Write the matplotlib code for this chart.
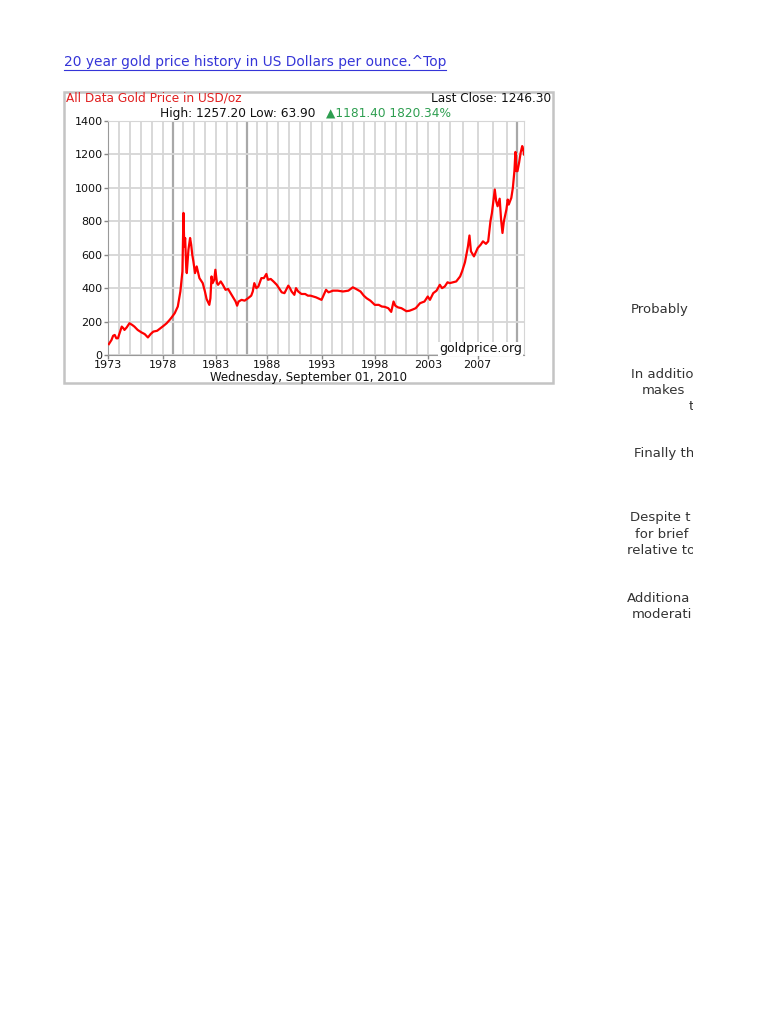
"""Gold price history chart (goldprice.org style) on a document page."""

import numpy as np
import matplotlib
matplotlib.use("Agg")
import matplotlib.pyplot as plt
from matplotlib.patches import Rectangle
from matplotlib.lines import Line2D

W, H = 768, 1024

# price curve (decimal year, USD/oz)
years = [
    1973.05, 1973.3, 1973.45, 1973.6, 1973.75, 1973.9, 1974.1, 1974.25, 1974.4, 1974.5,
    1974.7, 1974.95, 1975.2, 1975.4, 1975.7, 1976.05, 1976.35, 1976.65, 1976.9, 1977.15,
    1977.5, 1977.8, 1978.1, 1978.4, 1978.7, 1978.9, 1979.2, 1979.5, 1979.75, 1979.95,
    1980.05, 1980.12, 1980.2, 1980.3, 1980.35, 1980.5, 1980.65, 1980.75, 1980.85, 1980.95,
    1981.1, 1981.25, 1981.5, 1981.8, 1982.0, 1982.15, 1982.4, 1982.5, 1982.6, 1982.7,
    1982.85, 1982.95, 1983.1, 1983.2, 1983.45, 1983.65, 1983.9, 1984.15, 1984.4, 1984.65,
    1984.9, 1985.05, 1985.2, 1985.5, 1985.8, 1986.15, 1986.45, 1986.6, 1986.75, 1986.95,
    1987.15, 1987.45, 1987.7, 1987.95, 1988.1, 1988.35, 1988.6, 1988.9, 1989.1, 1989.35,
    1989.6, 1989.95, 1990.1, 1990.25, 1990.5, 1990.65, 1990.85, 1991.15, 1991.5, 1991.75,
    1992.0, 1992.5, 1993.0, 1993.3, 1993.45, 1993.7, 1994.15, 1994.6, 1995.1, 1995.6,
    1996.0, 1996.3, 1996.7, 1997.0, 1997.25, 1997.6, 1998.0, 1998.4, 1998.7, 1999.0,
    1999.3, 1999.55, 1999.75, 1999.9, 2000.15, 2000.5, 2001.0, 2001.3, 2001.6, 2001.9,
    2002.3, 2002.7, 2003.0, 2003.2, 2003.5, 2003.8, 2004.1, 2004.3, 2004.55, 2004.8,
    2005.0, 2005.5, 2005.8, 2005.95, 2006.15, 2006.35, 2006.45, 2006.55, 2006.75, 2006.9,
    2007.0, 2007.2, 2007.35, 2007.55, 2007.7, 2007.85, 2007.95, 2008.15, 2008.25, 2008.35,
    2008.5, 2008.6, 2008.7, 2008.8, 2008.98, 2009.1, 2009.2, 2009.45, 2009.6, 2009.75,
    2009.85, 2009.95, 2010.05, 2010.2, 2010.35, 2010.5, 2010.6, 2010.67,
]
prices = [
    65, 90, 115, 120, 100, 100, 140, 170, 160, 150,
    165, 190, 180, 170, 150, 135, 125, 105, 125, 140,
    145, 160, 175, 190, 210, 225, 250, 290, 380, 500,
    850, 650, 700, 520, 490, 630, 700, 660, 600, 560,
    490, 530, 460, 430, 380, 335, 300, 340, 470, 430,
    450, 510, 430, 420, 440, 420, 390, 395, 370, 345,
    320, 295, 320, 330, 325, 340, 355, 380, 430, 400,
    410, 460, 460, 485, 450, 455, 440, 420, 400, 375,
    370, 415, 400, 380, 360, 400, 380, 365, 365, 355,
    355, 345, 330, 370, 390, 375, 385, 385, 380, 385,
    405, 395, 380, 355, 340, 325, 300, 300, 290, 288,
    280, 258, 320, 295, 285, 280, 262, 265, 272, 280,
    310, 320, 350, 330, 370, 385, 420, 400, 410, 435,
    430, 440, 470, 500, 555, 650, 715, 620, 590, 620,
    640, 660, 680, 665, 680, 800, 850, 990, 920, 890,
    935, 810, 730, 800, 870, 930, 900, 940, 1000, 1100,
    1215, 1100, 1100, 1150, 1210, 1250, 1230, 1200,
]

# the chart's time axis is not uniform: yearly grid lines and where they sit (px)
grid_years = list(range(1973, 2012))
grid_px = [108.3, 119, 130, 141, 151.7, 162.7, 172.7, 183, 194, 205,
           216, 226.7, 236.7, 246.7, 257, 267, 278, 289, 300, 310.7,
           321.7, 331.7, 342, 353, 364, 375, 385, 396.7, 406.7, 417,
           428, 439, 450, 463, 478, 493, 507, 517.3, 527.8]
break_years = [1979, 1986, 2010]

tick_years = [1973, 1978, 1983, 1988, 1993, 1998, 2003, 2007]
y_ticks = [0, 200, 400, 600, 800, 1000, 1200, 1400]

title = "All Data Gold Price in USD/oz"
last_close = "Last Close: 1246.30"
high_low = "High: 1257.20 Low: 63.90"
change = "\u25b21181.40 1820.34%"
date_label = "Wednesday, September 01, 2010"
link_text = "20 year gold price history in US Dollars per ounce.^Top"

# paragraph fragments on the right of the page, cut off at the page column
side_lines = [
    ("Probably", 631, 310),
    ("In additio", 631, 374),
    ("makes", 642, 390),
    ("t", 689, 406),
    ("Finally th", 634, 454),
    ("Despite t", 630, 518),
    ("for brief", 635, 534),
    ("relative to", 627, 550),
    ("Additiona", 627, 598),
    ("moderati", 632, 614),
]

HEAD_FS = 8.7


def fx(px):
    return px / W


def fy(py):
    return 1 - py / H


def fwd(x):
    return np.interp(x, grid_years, grid_px)


def inv(p):
    return np.interp(p, grid_px, grid_years)


fig = plt.figure(figsize=(W / 100, H / 100), dpi=100)
fig.patch.set_facecolor("white")

# link heading with underline
lt = fig.text(fx(64), fy(62), link_text, color="#3535d8", fontsize=9.9,
              va="center", ha="left")
fig.canvas.draw()
bb = lt.get_window_extent()
fig.add_artist(Line2D([bb.x0 / W, bb.x1 / W], [fy(70), fy(70)],
                      color="#3535d8", lw=0.8, transform=fig.transFigure))

# chart frame
fig.add_artist(Rectangle((fx(64), fy(383)), (553 - 64) / W, (383 - 92) / H,
                         facecolor="white", edgecolor="#c4c4c4", lw=1.8,
                         transform=fig.transFigure, zorder=0))

fig.text(fx(66), fy(98), title, color="#e02020", fontsize=HEAD_FS, va="center")
fig.text(fx(551), fy(98), last_close, color="#111111", fontsize=HEAD_FS,
         va="center", ha="right")
fig.text(fx(160), fy(113), high_low, color="#111111", fontsize=HEAD_FS,
         va="center")
fig.text(fx(326), fy(113), change, color="#2e9e50", fontsize=HEAD_FS,
         va="center")

ax = fig.add_axes([fx(108.3), fy(355), (524 - 108.3) / W, (355 - 121) / H])
ax.set_xscale("function", functions=(fwd, inv))
ax.set_xlim(1973, 2010.67)
ax.set_ylim(0, 1400)

for gy in grid_years:
    ax.axvline(gy, color="#d6d6d6", lw=1.3, zorder=1)
for gy in break_years:
    ax.axvline(gy, color="#a8a8a8", lw=1.6, zorder=1)
for v in y_ticks:
    ax.axhline(v, color="#d6d6d6", lw=1.3, zorder=1)

ax.plot(years, prices, color="#ff0000", lw=1.6, zorder=3)

ax.set_xticks(tick_years)
ax.set_xticklabels([str(y) for y in tick_years])
ax.xaxis.set_minor_locator(matplotlib.ticker.NullLocator())
ax.set_yticks(y_ticks)
ax.tick_params(axis="both", length=3, width=1, color="#888888", labelsize=8,
               labelcolor="#111111", pad=1)
ax.tick_params(axis="x", pad=0.5)
for side in ("top", "right"):
    ax.spines[side].set_color("#d6d6d6")
for side in ("left", "bottom"):
    ax.spines[side].set_color("#999999")

ax.text(0.995, 0.026, "goldprice.org", transform=ax.transAxes, ha="right",
        va="center", fontsize=9, color="#111111", zorder=4,
        bbox=dict(facecolor="white", edgecolor="none", pad=0.5))

fig.text(fx(308), fy(381.5), date_label, fontsize=8.5, color="#111111",
         ha="center", va="baseline")

# right-hand text column, clipped like the source page
side = fig.add_axes([fx(600), fy(640), (693 - 600) / W, (640 - 290) / H])
side.set_xlim(600, 693)
side.set_ylim(640, 290)
side.axis("off")
for txt, x0, y0 in side_lines:
    side.text(x0, y0, txt, fontsize=9.5, color="#333333", ha="left",
              va="center", clip_on=True)

fig.savefig("out.png", dpi=100)
